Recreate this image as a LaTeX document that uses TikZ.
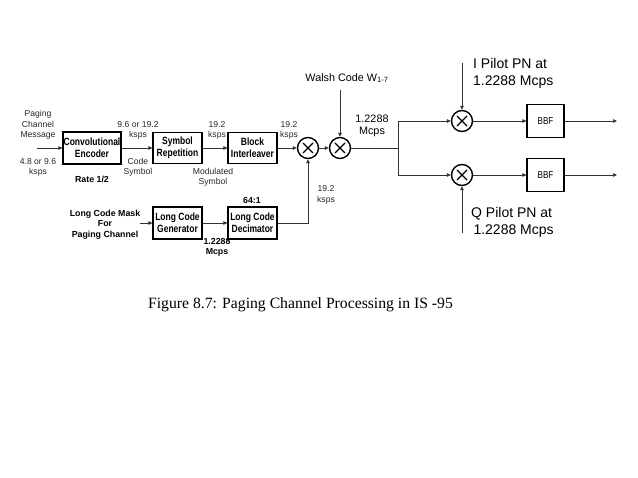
\documentclass[tikz,border=0pt]{standalone}
\usepackage{fontspec}
\setmainfont{Liberation Sans}
\newfontfamily\capfont{Liberation Serif}
\newfontfamily\boxfont[FakeStretch=0.81]{Liberation Sans}
\usetikzlibrary{arrows.meta,positioning}
\definecolor{wire}{HTML}{333333}
\tikzset{
  blk/.style={draw,line width=1.1pt,inner sep=0pt,align=center,
              minimum width=49pt,minimum height=31pt,
              font=\boxfont\fontsize{10.5}{12}\selectfont\bfseries},
  filt/.style={draw,line width=1.1pt,inner sep=0pt,minimum width=37pt,
               minimum height=33pt,font=\boxfont\fontsize{10}{11}\selectfont},
  mult/.style={circle,draw,line width=1.4pt,minimum size=21pt,inner sep=0pt,
               path picture={\draw[line width=1.4pt]
                 ([shift={(-5pt,-5pt)}]path picture bounding box.center)--
                 ([shift={(5pt,5pt)}]path picture bounding box.center)
                 ([shift={(-5pt,5pt)}]path picture bounding box.center)--
                 ([shift={(5pt,-5pt)}]path picture bounding box.center);}},
  lbl/.style={align=center,inner sep=0pt,text=black!85,
              font=\fontsize{8.6}{10.5}\selectfont},
  lblb/.style={lbl,text=black,font=\fontsize{8.8}{10.5}\selectfont\bfseries},
  mid/.style={align=center,inner sep=0pt,font=\fontsize{10.8}{12.5}\selectfont},
  big/.style={align=left,inner sep=0pt,anchor=west,font=\fontsize{14}{17}\selectfont},
  arrow/.style={-{Triangle[length=4pt,width=3.5pt]},line width=0.7pt,draw=wire},
  wireline/.style={line width=0.7pt,draw=wire}
}
\begin{document}
\begin{tikzpicture}[x=1pt,y=-1pt]
\useasboundingbox (0,0) rectangle (638,478);
% upper chain
\node[blk,minimum width=58pt,minimum height=32pt] (conv) at (92,148) {Convolutional\\Encoder};
\node[blk] (rep) at (177.5,148) {Symbol\\Repetition};
\node[blk] (intl) at (252.5,148) {Block\\Interleaver};
\node[mult] (m1) at (308,148) {};
\node[mult] (m2) at (340,148) {};
\coordinate (split) at (398,148);
\node[mult] (mi) at (462,121) {};
\node[mult] (mq) at (462,175) {};
\node[filt] (bbfi) at (545.5,121) {BBF};
\node[filt] (bbfq) at (545.5,175) {BBF};
\coordinate (in) at (37,148);
\coordinate (outi) at (617,121);
\coordinate (outq) at (617,175);
\coordinate (walshtop) at (340,90);
\coordinate (itop) at (462,63);
\coordinate (qbot) at (462,233);
% long code chain
\node[blk,minimum height=32pt] (gen) at (177.5,223) {Long Code\\Generator};
\node[blk,minimum height=32pt] (dec) at (252.5,223) {Long Code\\Decimator};
\node[lblb] (mask) at (105,224.5) {Long Code Mask\\For\\Paging Channel};
% labels
\node[lbl] (msg) at (38,125) {Paging\\Channel\\Message};
\node[lbl] (inrate) at (38,167.5) {4.8 or 9.6\\ksps};
\node[lbl] (r1) at (138,130.5) {9.6 or 19.2\\ksps};
\node[lbl] (codesym) at (138,167.5) {Code\\Symbol};
\node[lblb] (rate) at (92,179) {Rate 1/2};
\node[lbl] (r2) at (217,130.5) {19.2\\ksps};
\node[lbl] (modsym) at (213,177.5) {Modulated\\Symbol};
\node[lbl] (r3) at (289,130.5) {19.2\\ksps};
\node[lbl] (r4) at (326,195) {19.2\\ksps};
\node[lblb] (ratio) at (252,200) {64:1};
\node[lblb] (genrate) at (217,247.5) {1.2288\\Mcps};
\node[mid] (walsh) at (347,78) {Walsh Code W\textsubscript{1-7}};
\node[mid] (chip) at (372,126) {1.2288\\Mcps};
\node[big] (ipn) at (473,73.5) {I Pilot PN at\\1.2288 Mcps};
\node[big] (qpn) at (471,222.5) {Q Pilot PN at\\\,1.2288 Mcps};
\node[font=\capfont\fontsize{15.7}{18}\selectfont] (cap) at (300.5,305) {Figure 8.7: Paging Channel Processing in IS -95};
% connectors
\draw[arrow] (in) -- (conv);
\draw[arrow] (conv) -- (rep);
\draw[arrow] (rep) -- (intl);
\draw[arrow] (intl) -- (m1);
\draw[arrow] (m1) -- (m2);
\draw[arrow] (walshtop) -- (m2);
\draw[wireline] (m2) -- (split);
\draw[arrow] (split) |- (mi);
\draw[arrow] (split) |- (mq);
\draw[arrow] (itop) -- (mi);
\draw[arrow] (qbot) -- (mq);
\draw[arrow] (mi) -- (bbfi);
\draw[arrow] (mq) -- (bbfq);
\draw[arrow] (bbfi) -- (outi);
\draw[arrow] (bbfq) -- (outq);
\draw[arrow] (mask.east |- gen.west) -- (gen);
\draw[arrow] (gen) -- (dec);
\draw[arrow] (dec.east) -| (m1.south);
\end{tikzpicture}
\end{document}
